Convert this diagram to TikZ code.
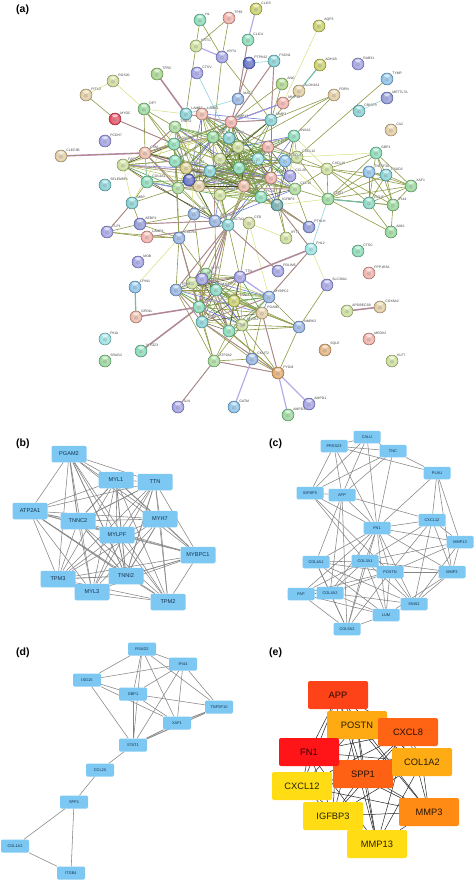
\documentclass[tikz,border=0pt]{standalone}
\usepackage{fontspec}
\setmainfont{Liberation Sans}
\pgfdeclarelayer{paper}
\pgfdeclarelayer{bg}
\pgfsetlayers{paper,bg,main}
\definecolor{cg}{HTML}{8CD490}
\definecolor{cy}{HTML}{C6DC90}
\definecolor{ct}{HTML}{78CCD0}
\definecolor{cb}{HTML}{88ACE0}
\definecolor{cp}{HTML}{9898E4}
\definecolor{cd}{HTML}{5060C4}
\definecolor{cr}{HTML}{E23C50}
\definecolor{cn}{HTML}{E0C898}
\definecolor{cs}{HTML}{F0A8A0}
\definecolor{co}{HTML}{C4CC58}
\definecolor{cm}{HTML}{7CD8B0}
\definecolor{cc}{HTML}{90E0E0}
\definecolor{cl}{HTML}{80BCE8}
\definecolor{ck}{HTML}{E0A060}
\definecolor{boxb}{HTML}{7CC8F2}
\definecolor{txtb}{HTML}{16304A}
\definecolor{edo}{HTML}{8E9A45}
\definecolor{edp}{HTML}{C585C4}
\definecolor{edy}{HTML}{D4E080}
\definecolor{edb}{HTML}{6A72DA}
\definecolor{edg}{HTML}{4EA050}
\definecolor{edk}{HTML}{45431C}
\definecolor{edc}{HTML}{8AD0DC}
\definecolor{edl}{HTML}{B4ACEA}
\tikzset{
  ballst/.style={circle,minimum size=12pt,inner sep=0pt,shade,inner color=#1!40,outer color=#1,draw=#1!60!black,line width=.45pt},
  lbl/.style={anchor=west,inner sep=.25pt,fill=white,fill opacity=.55,text opacity=1,text=black!75,font=\fontsize{3.4}{4}\selectfont},
  ek0/.style={edo,line width=.6pt},
  ek1/.style={draw=edp,double=edo,line width=.25pt,double distance=.3pt},
  ek2/.style={edy!70!edo,line width=.6pt},
  ek3/.style={edo!70!edg,line width=.6pt},
  ek4/.style={edg,line width=.6pt},
  ek5/.style={edk,line width=.45pt},
  ek6/.style={edb,line width=.55pt},
  ek7/.style={edo,line width=.5pt},
  eo/.style={edo,line width=.6pt},
  ey/.style={edy,line width=.5pt},
  ep/.style={draw=edp,double=edo,line width=.3pt,double distance=.35pt},
  ept/.style={draw=edp,double=edo!70!edp,line width=.45pt,double distance=.65pt},
  ec/.style={edc,line width=.55pt},
  el/.style={edl,line width=1.2pt},
  elb/.style={edb!75!white,line width=1pt},
  et/.style={edc!60!edg,line width=1.2pt},
  gb/.style={black!48,line width=.55pt},
  gbt/.style={black!48,line width=.85pt},
  bx/.style={rounded corners=1.3pt,fill=boxb,text=txtb,align=center,inner sep=0pt},
  bxb/.style={bx,minimum width=35pt,minimum height=16.5pt,font=\fontsize{5.6}{6.5}\selectfont},
  bxc/.style={bx,minimum width=27pt,minimum height=12.5pt,font=\fontsize{3.9}{5}\selectfont},
  bxd/.style={bxc,minimum width=28pt,minimum height=13pt},
  bxe/.style={rounded corners=2pt,fill=#1,text=black!85!#1,inner sep=0pt,minimum width=60pt,minimum height=28pt,font=\fontsize{9.3}{11}\selectfont},
  panel/.style={font=\bfseries\fontsize{10.5}{12}\selectfont,anchor=west,inner sep=0pt}
}
\newcommand\sn[5]{%
  \node[ballst=#4] (#1) at (#2,#3) {};
  \fill[#4!55!black,opacity=.28] (#2,#3+.8) ellipse (2.4pt and 1.9pt);
  \fill[white,opacity=.6] (#2,#3-3.4) ellipse (3.1pt and 1.4pt);
  \node[lbl] (#1l) at (#2+5,#3-6) {#5};
}
\begin{document}
\begin{tikzpicture}[x=1pt,y=-1pt]
\useasboundingbox (0,0) rectangle (474,880);
\begin{pgfonlayer}{paper}
\fill[white] (0,0) rectangle (474,880);
\end{pgfonlayer}
\node[panel] (pa) at (16,10) {(a)};
\node[panel] (pb) at (16,444) {(b)};
\node[panel] (pc) at (269,444) {(c)};
\node[panel] (pd) at (16,653) {(d)};
\node[panel] (pe) at (269,653) {(e)};
% ---------- panel a: outer proteins
\sn{CLIC5}{256}{9}{co}{CLIC5}
\sn{HL}{200}{20}{cm}{HL}
\sn{TP63}{229}{18}{cs}{TP63}
\sn{CLIC4}{248}{40}{cm}{CLIC4}
\sn{AQP3}{319}{26}{co}{AQP3}
\sn{KRT17}{196}{46}{cy}{KRT17}
\sn{KRT4}{222}{57}{cp}{KRT4}
\sn{PTPN}{249}{63}{cd}{PTPN12}
\sn{FSCN}{274}{61}{ct}{FSCN1}
\sn{ADH}{320}{65}{co}{ADH1B}
\sn{RAB}{358}{64}{cp}{RAB31}
\sn{TYMP}{387}{79}{cl}{TYMP}
\sn{METT}{387}{98}{cd!70!white}{METTL7A}
\sn{CTSV}{197}{73}{cp}{CTSV}
\sn{TFRC}{157}{74}{cg!70!co}{TFRC}
\sn{RGS}{113}{81}{cy!70!cn}{RGS20}
\sn{PITX}{86}{95}{cn}{PITX2}
\sn{DPT}{144}{109}{cg}{DPT}
\sn{MYOC}{115}{119}{cr}{MYOC}
\sn{PCD}{105}{141}{cp}{PCDH7}
\sn{CLEC}{61}{156}{cn}{CLEC3B}
\sn{SELE}{105}{185}{ct}{SELENBP1}
\sn{MBP}{132}{203}{ct}{MBP}
\sn{ANG}{282}{84}{cg!60!co}{ANG}
\sn{ALDH}{299}{91}{cn}{ALDH1A1}
\sn{PDPN}{334}{95}{cn}{PDPN}
\sn{MACX}{238}{99}{cb}{MAC1}
\sn{CRIS}{359}{111}{ct}{CRISP3}
\sn{CAII}{391}{130}{cn}{CA2}
\sn{MMPX}{283}{103}{cs}{MMP10}
\sn{GBPA}{376}{153}{cm}{GBP1}
\sn{CXTEN}{327}{169}{cy}{CXCL10}
\sn{TNFA}{369}{172}{cl}{TNFSF10}
\sn{RSAA}{386}{175}{ct}{RSAD2}
\sn{XAFA}{411}{186}{cg}{XAF1}
\sn{STAA}{328}{199}{cg}{STAT1}
\sn{ISGA}{369}{203}{cm!70!ct}{ISG15}
\sn{IFIA}{393}{205}{cg}{IFI44}
\sn{AIM}{391}{232}{cg}{AIM2}
\sn{PTHL}{309}{227}{cd!70!white}{PTHLH}
\sn{AEBP}{140}{224}{cd!70!white}{AEBP1}
\sn{PLP}{107}{232}{cp}{PLP1}
\sn{UMPS}{147}{237}{cs}{LAMP3}
\sn{CXCR}{179}{238}{cb}{CXCR4}
\sn{IFIT}{286}{238}{cy}{IFIT1}
\sn{FHL}{311}{249}{cc}{FHL2}
\sn{CTSC}{358}{251}{cm}{CTSC}
\sn{PPP}{369}{273}{cs}{PPP1R3A}
\sn{MEOB}{138}{262}{cp}{MOB}
\sn{PDLI}{278}{271}{cp}{PDLIM5}
\sn{SLC}{327}{285}{cp}{SLC39A1}
\sn{LPIN}{135}{287}{cl}{LPIN1}
\sn{GPD}{136}{317}{cs!70!cn}{GPD1L}
\sn{APO}{347}{311}{cy}{APOBEC3B}
\sn{COX}{380}{307}{cn}{COX6A2}
\sn{NMR}{299}{327}{cb}{NMRK2}
\sn{PKIA}{105}{339}{cc}{PKIA}
\sn{MEOX}{369}{339}{cs}{MEOX2}
\sn{MYOZ}{141}{351}{cm}{MYOZ3}
\sn{SQLE}{325}{350}{ck!70!cn}{SQLE}
\sn{SRAG}{105}{361}{cg}{SRAG2}
\sn{ATP}{214}{361}{cg!70!cy}{ATP2A2}
\sn{CKM}{252}{359}{cb}{CKMT2}
\sn{PYGM}{278}{373}{ck}{PYGM}
\sn{KLF}{392}{361}{cy}{KLF7}
\sn{SLN}{178}{407}{cp}{SLN}
\sn{GATM}{234}{407}{cl}{GATM}
\sn{AMPA}{309}{404}{cp}{AMPD1}
\sn{AMPC}{288}{415}{cg}{AMPD3}
% ---------- central cluster n1...n36
\sn{n1}{186}{114}{ct}{LAMB3}
\sn{n2}{202}{114}{cs!70!cn}{LAMB1}
\sn{n3}{231}{122}{cs}{MMP13}
\sn{n4}{271}{120}{ct}{MMP3}
\sn{n5}{175}{127}{cg!70!cy}{THBS2}
\sn{n6}{213}{137}{cg}{TNC}
\sn{n7}{229}{138}{ct}{VCAN}
\sn{n8}{294}{136}{cm}{ANXA2}
\sn{n9}{174}{144}{cm}{BGN}
\sn{n10}{238}{147}{cy}{FN1}
\sn{n11}{268}{147}{cs}{SPP1}
\sn{n12}{145}{153}{cs!60!cn}{CSM}
\sn{n13}{297}{157}{cy}{CXCL12}
\sn{n14}{285}{161}{cl}{CXCL8}
\sn{n15}{175}{161}{cm}{LUM}
\sn{n16}{220}{159}{cy}{POSTN}
\sn{n17}{258}{159}{cc}{APP}
\sn{n18}{186}{168}{cn!60!co}{COL1A2}
\sn{n19}{239}{168}{cm}{COL3A1}
\sn{n20}{210}{171}{ct}{COL5A2}
\sn{n21}{271}{178}{cs}{TIMP1}
\sn{n22}{290}{176}{cp}{CCL20}
\sn{n23}{147}{182}{cm}{COL4A1}
\sn{n24}{178}{188}{cg!60!cy}{COL4A2}
\sn{n25}{199}{186}{cn}{COL6A3}
\sn{n26}{244}{186}{cs!60!cn}{FAP}
\sn{n27}{295}{189}{cg!60!cy}{CCL19}
\sn{n28}{189}{180}{cd}{ITGB4}
\sn{n29}{220}{195}{cy}{SNAI2}
\sn{n30}{261}{197}{cm}{PLAU}
\sn{n31}{277}{205}{ct!80!black}{IGFBP3}
\sn{n32}{194}{214}{cb}{CALU}
\sn{n33}{215}{221}{cb}{SERPINF1}
\sn{n34}{228}{225}{ct}{ACTA2}
\sn{n35}{249}{223}{cy!70!cn}{CFD}
\sn{n36}{123}{165}{cy}{FAP}
% ---------- muscle cluster m1...m13
\sn{m1}{206}{274}{cg}{MYH7}
\sn{m2}{192}{283}{cy}{MYL3}
\sn{m3}{202}{279}{cp}{MYL1}
\sn{m4}{176}{290}{cb}{TPM3}
\sn{m5}{216}{290}{cm!70!ct}{MYLPF}
\sn{m6}{234}{301}{co}{TNNI2}
\sn{m7}{240}{277}{cp}{TTN}
\sn{m8}{269}{297}{cb}{MYBPC2}
\sn{m9}{199}{307}{cm}{TNNC2}
\sn{m10}{262}{313}{cn}{PGAM2}
\sn{m11}{202}{322}{ct}{TPM2}
\sn{m12}{242}{325}{cy}{MYLK2}
\sn{m13}{229}{331}{cm}{ACTN3}
\begin{pgfonlayer}{bg}
% cluster edges (generated)
\foreach \i in {1,...,36}{\foreach \j in {1,...,36}{%
  \ifnum\j>\i\relax
    \pgfmathtruncatemacro\h{mod(\i*17+\j*31+\i*\j*5,3)}%
    \ifnum\h=0\relax
      \pgfmathtruncatemacro\k{mod(\i+\j*3,8)}%
      \edef\tmp{\noexpand\draw[ek\k] (n\i) -- (n\j);}\tmp
    \fi
  \fi}}
% denser core, olive and green
\foreach \a/\b in {n3/n10,n3/n16,n3/n19,n3/n26,n4/n10,n4/n16,n4/n19,n4/n21,n4/n26,n6/n10,n6/n17,n6/n19,n6/n21,n6/n30,n7/n11,n7/n19,n7/n26,n7/n30,n10/n16,n10/n17,n10/n19,n10/n20,n10/n21,n10/n25,n10/n26,n10/n29,n10/n30,n11/n16,n11/n19,n11/n20,n11/n25,n11/n26,n11/n29,n16/n17,n16/n19,n16/n21,n16/n26,n16/n30,n17/n19,n17/n20,n17/n26,n17/n29,n19/n20,n19/n21,n19/n25,n19/n26,n19/n29,n19/n30,n20/n21,n20/n26,n20/n30,n21/n25,n21/n26,n21/n29,n25/n26,n25/n30,n26/n29,n26/n30,n29/n30,n14/n17,n14/n19,n14/n10}
  {\draw[ek3] (\a) -- (\b);}
\foreach \a/\b in {n25/n26,n18/n26,n10/n26,n3/n21,n4/n20,n6/n26,n16/n25}
  {\draw[ek5] (\a) -- (\b);}
\foreach \i in {1,...,13}{\foreach \j in {1,...,13}{%
  \ifnum\j>\i\relax
    \pgfmathtruncatemacro\k{mod(\i*2+\j*3,8)}%
    \edef\tmp{\noexpand\draw[ek\k] (m\i) -- (m\j);}\tmp
  \fi}}
% outer edges
\foreach \a/\b in {HL/KRT17,HL/KRT4,TP63/KRT17,TP63/KRT4,KRT17/n1,KRT4/n6,KRT4/n4,PITX/MYOC,DPT/n12,DPT/n5,DPT/n9,DPT/n18,ALDH/n4,ANG/n3,ANG/n4,PDPN/n8,PDPN/n4,PDPN/n10,TYMP/n13,GBPA/CXTEN,GBPA/STAA,GBPA/ISGA,GBPA/XAFA,GBPA/IFIA,GBPA/RSAA,TNFA/XAFA,TNFA/STAA,TNFA/ISGA,TNFA/RSAA,TNFA/IFIA,RSAA/XAFA,RSAA/IFIA,RSAA/STAA,RSAA/ISGA,XAFA/IFIA,XAFA/ISGA,XAFA/STAA,STAA/ISGA,STAA/IFIA,ISGA/IFIA,CXTEN/STAA,CXTEN/ISGA,CXTEN/IFIA,CXTEN/XAFA,CXTEN/RSAA,CXTEN/n13,CXTEN/n14,CXTEN/n27,ISGA/AIM,IFIA/AIM,STAA/AIM,STAA/n27,STAA/n13,PTHL/n31,PTHL/n30,PTHL/n27,IFIT/n31,IFIT/n11,SLC/NMR,NMR/PYGM,NMR/m8,NMR/m10,NMR/m6,NMR/m12,NMR/m13,NMR/m5,MBP/AEBP,PLP/AEBP,PLP/UMPS,PLP/CXCR,AEBP/n32,AEBP/CXCR,UMPS/CXCR,MBP/n23,MBP/n24,CXCR/m4,CXCR/m9,CXCR/n32,CXCR/n5,CXCR/n9,CKM/PYGM,ATP/CKM,n34/m1,n34/m7,n34/m5,n35/m7,n33/m5,n32/m3,n36/n12,n36/n23,n36/n15,n12/n23,m4/ATP,m11/ATP,m13/ATP,m12/ATP,m10/CKM,m6/CKM,m11/CKM,m9/PYGM,m12/PYGM,m13/PYGM,m9/ATP,m1/CXCR}
  {\draw[eo] (\a) -- (\b);}
\foreach \a/\b in {RGS/DPT,RGS/PITX,AQP3/MMPX,CXTEN/n8,GBPA/n13,STAA/n31,FHL/SLC,n35/IFIT,n35/m8,LPIN/CXCR,DPT/n1,MBP/n5,n36/MBP,n32/n1,STAA/n14}
  {\draw[ey] (\a) -- (\b);}
\foreach \a/\b in {MYOC/n9,PTPN/MACX,FSCN/n3,CLIC4/MACX,MACX/n3,FHL/n31,FHL/m8,MBP/PLP,m10/PYGM,m11/PYGM,ATP/SLN,ATP/PYGM,n34/PDLI,n34/m11,n34/m4,n34/m9,n31/PTHL,CXCR/m11,n34/m2,UMPS/n34,AEBP/n33,n12/n5,n12/n24,n12/n9,n12/n18,FSCN/n4,MMPX/n3,n3/n4,n1/n3}
  {\draw[ep] (\a) -- (\b);}
\foreach \a/\b in {TFRC/n1,CLEC/n12,FHL/m7,MYOZ/m9,GPD/m9,APO/COX}
  {\draw[ept] (\a) -- (\b);}
\foreach \a/\b in {PTPN/FSCN,CRIS/METT,STAA/FHL,CTSV/n7,MACX/n1,n12/n23}
  {\draw[ec] (\a) -- (\b);}
\foreach \a/\b in {KRT17/KRT4,CLIC5/CLIC4,m7/m8,PYGM/AMPA,PYGM/AMPC,CKM/GATM}
  {\draw[el] (\a) -- (\b);}
\foreach \a/\b in {n3/MMPX,n23/n24}
  {\draw[elb] (\a) -- (\b);}
\foreach \a/\b in {ADH/ALDH,LPIN/GPD,STAA/ISGA}
  {\draw[et] (\a) -- (\b);}
\end{pgfonlayer}
% ---------- panel b
\node[bxb] (b1) at (69,454) {PGAM2};
\node[bxb] (b2) at (116,480) {MYL1};
\node[bxb] (b3) at (155,482) {TTN};
\node[bxb] (b4) at (30,511) {ATP2A1};
\node[bxb] (b5) at (78,521) {TNNC2};
\node[bxb] (b6) at (160,519) {MYH7};
\node[bxb] (b7) at (117,535) {MYLPF};
\node[bxb] (b8) at (198,555) {MYBPC1};
\node[bxb] (b9) at (58,579) {TPM3};
\node[bxb] (b10) at (126,576) {TNNI2};
\node[bxb] (b11) at (92,592) {MYL3};
\node[bxb] (b12) at (168,602) {TPM2};
\begin{pgfonlayer}{bg}
\foreach \i in {1,...,12}{\foreach \j in {1,...,12}{%
  \ifnum\j>\i\relax
    \pgfmathtruncatemacro\h{mod(\i*5+\j*3,5)}%
    \ifnum\h=0\relax
      \draw[gbt] (b\i) -- (b\j);
    \else
      \draw[gb] (b\i) -- (b\j);
    \fi
  \fi}}
\end{pgfonlayer}
% ---------- panel c
\node[bxc] (CALU) at (367,437) {CALU};
\node[bxc] (PRSS) at (334,446) {PRSS23};
\node[bxc] (TNCc) at (393,451) {TNC};
\node[bxc] (PLAUc) at (437,473) {PLAU};
\node[bxc] (IGF5) at (310,493) {IGFBP5};
\node[bxc] (APPc) at (342,495) {APP};
\node[bxc] (CX12) at (432,520) {CXCL12};
\node[bxc] (FN) at (377,528) {FN1};
\node[bxc] (M13) at (460,542) {MMP13};
\node[bxc] (C4A1) at (316,562) {COL4A1};
\node[bxc] (C3A1) at (365,561) {COL3A1};
\node[bxc] (POST) at (390,572) {POSTN};
\node[bxc] (M3) at (452,572) {MMP3};
\node[bxc] (FAPc) at (301,594) {FAP};
\node[bxc] (C4A2) at (330,593) {COL4A2};
\node[bxc] (SNAI) at (414,604) {SNAI2};
\node[bxc] (LUMc) at (386,615) {LUM};
\node[bxc] (C5A2) at (347,629) {COL5A2};
\begin{pgfonlayer}{bg}
\foreach \a/\b in {CALU/PRSS,CALU/TNCc,CALU/IGF5,CALU/APPc,CALU/FN,PRSS/TNCc,PRSS/PLAUc,PRSS/IGF5,PRSS/APPc,PRSS/FN,TNCc/IGF5,TNCc/APPc,TNCc/FN,TNCc/PLAUc,PLAUc/CX12,PLAUc/M13,PLAUc/M3,PLAUc/FN,IGF5/APPc,IGF5/FN,IGF5/C3A1,IGF5/POST,APPc/FN,APPc/CX12,APPc/C4A2,APPc/C5A2,APPc/C4A1,CX12/FN,CX12/M13,CX12/M3,CX12/C3A1,CX12/POST,CX12/SNAI,FN/M13,FN/M3,FN/C4A1,FN/C3A1,FN/POST,FN/FAPc,FN/C4A2,FN/SNAI,FN/LUMc,FN/C5A2,M13/C3A1,M13/POST,M13/M3,M13/SNAI,C4A1/C3A1,C4A1/POST,C4A1/C4A2,C4A1/LUMc,C4A1/C5A2,C4A1/SNAI,C3A1/POST,C3A1/M3,C3A1/FAPc,C3A1/C4A2,C3A1/LUMc,C3A1/SNAI,C3A1/C5A2,POST/M3,POST/FAPc,POST/C4A2,POST/LUMc,POST/SNAI,POST/C5A2,M3/SNAI,M3/LUMc,FAPc/C4A2,FAPc/C5A2,FAPc/LUMc,C4A2/LUMc,C4A2/SNAI,C4A2/C5A2,SNAI/LUMc,LUMc/C5A2}
  {\draw[gb] (\a) -- (\b);}
\end{pgfonlayer}
% ---------- panel d
\node[bxd] (RSAD) at (142,649) {RSAD2};
\node[bxd] (IFI) at (183,664) {IFI44};
\node[bxd] (ISG) at (87,680) {ISG15};
\node[bxd] (GBP) at (133,694) {GBP1};
\node[bxd] (TNF) at (219,707) {TNFSF10};
\node[bxd] (XAF) at (177,723) {XAF1};
\node[bxd] (STAT) at (133,745) {STAT1};
\node[bxd] (CCL) at (100,770) {CCL20};
\node[bxd] (SPPd) at (74,802) {SPP1};
\node[bxd] (COLd) at (15,846) {COL1A2};
\node[bxd] (ITG) at (71,873) {ITGB4};
\begin{pgfonlayer}{bg}
\foreach \a/\b in {RSAD/IFI,RSAD/ISG,RSAD/GBP,RSAD/TNF,RSAD/XAF,RSAD/STAT,IFI/ISG,IFI/GBP,IFI/TNF,IFI/XAF,IFI/STAT,ISG/GBP,ISG/XAF,ISG/STAT,GBP/TNF,GBP/XAF,GBP/STAT,STAT/CCL,CCL/SPPd,SPPd/COLd,SPPd/ITG,COLd/ITG}
  {\draw[gb] (\a) -- (\b);}
\foreach \a/\b in {TNF/XAF,TNF/STAT,XAF/STAT}
  {\draw[gbt] (\a) -- (\b);}
\end{pgfonlayer}
% ---------- panel e
\definecolor{e1}{HTML}{FF4318}
\definecolor{e2}{HTML}{FFAA12}
\definecolor{e3}{HTML}{FF6414}
\definecolor{e4}{HTML}{FF1418}
\definecolor{e5}{HTML}{FFAC14}
\definecolor{e6}{HTML}{FF6114}
\definecolor{e7}{HTML}{FFDC14}
\definecolor{e8}{HTML}{FF8A14}
\node[bxe=e1] (E1) at (338,695) {APP};
\node[bxe=e2] (E2) at (357,725) {POSTN};
\node[bxe=e3] (E3) at (408,732) {CXCL8};
\node[bxe=e6] (E6) at (363,774) {SPP1};
\node[bxe=e4] (E4) at (309,752) {FN1};
\node[bxe=e5] (E5) at (422,762) {COL1A2};
\node[bxe=e7] (E7) at (302,786) {CXCL12};
\node[bxe=e8] (E8) at (429,812) {MMP3};
\node[bxe=e7] (E9) at (333,816) {IGFBP3};
\node[bxe=e7] (E10) at (377,844) {MMP13};
\begin{pgfonlayer}{bg}
\foreach \i in {1,...,10}{\foreach \j in {1,...,10}{%
  \ifnum\j>\i\relax
    \draw[black!85,line width=.5pt] (E\i) -- (E\j);
  \fi}}
\end{pgfonlayer}
\end{tikzpicture}
\end{document}
